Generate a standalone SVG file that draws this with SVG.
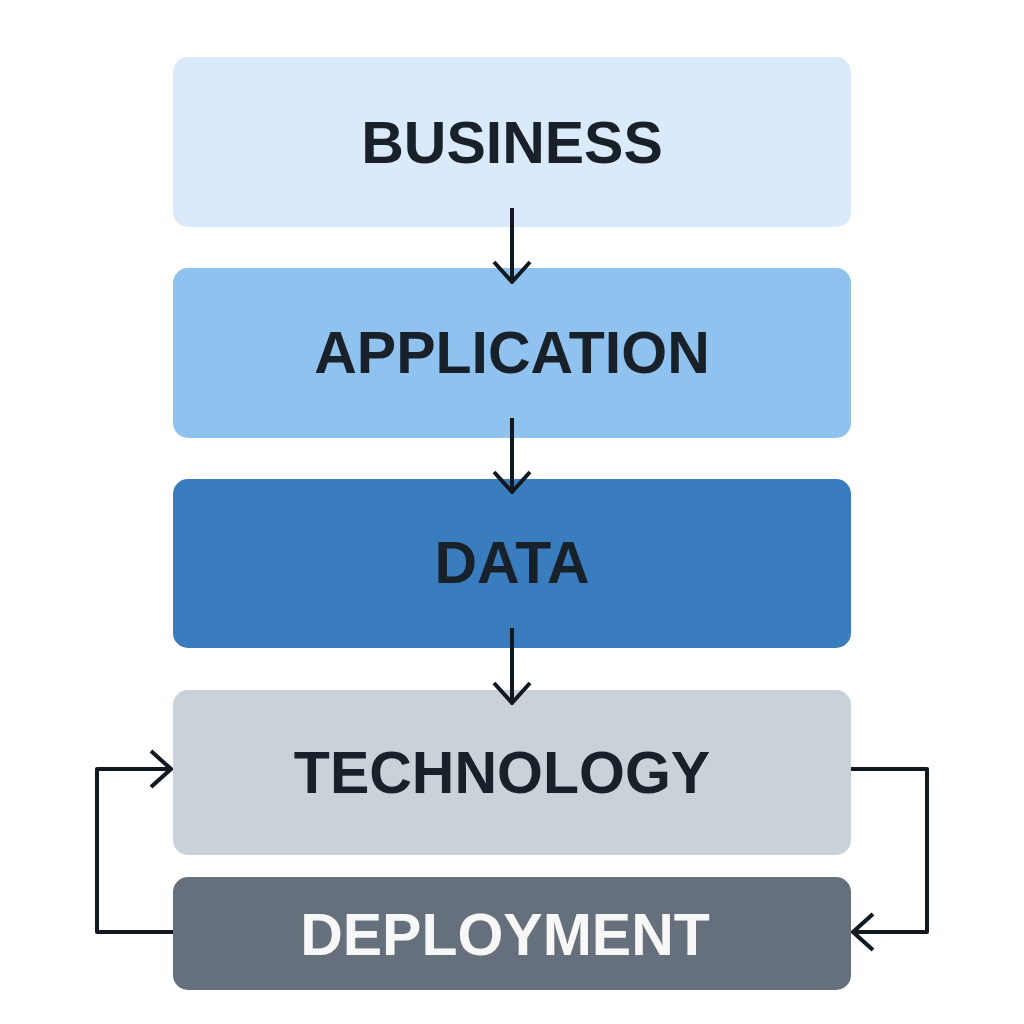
<svg xmlns="http://www.w3.org/2000/svg" width="1024" height="1024" viewBox="0 0 1024 1024">
<style>
text{font-family:"Liberation Sans",Arial,sans-serif;font-weight:bold;font-size:59px;text-anchor:middle;fill:#18202a}
.c{fill:none;stroke:#111820;stroke-width:4;stroke-linejoin:round}
</style>
<defs><marker id="a" viewBox="0 0 24 40" refX="22" refY="20" markerWidth="24" markerHeight="40" markerUnits="userSpaceOnUse" orient="auto"><path d="M2,2 L22,20 L2,38" fill="none" stroke="#111820" stroke-width="4" stroke-linejoin="miter"/></marker></defs>
<rect width="1024" height="1024" fill="#fff"/>
<g id="business"><rect x="173" y="57" width="678" height="170" rx="15" fill="#dbeafa"/><text x="512" y="163">BUSINESS</text></g>
<g id="application"><rect x="173" y="268" width="678" height="170" rx="15" fill="#90c2ef"/><text x="512" y="373">APPLICATION</text></g>
<g id="data"><rect x="173" y="479" width="678" height="169" rx="15" fill="#3a7dbf"/><text x="512" y="583">DATA</text></g>
<g id="technology"><rect x="173" y="690" width="678" height="165" rx="15" fill="#cbd1d9"/><text x="502" y="793">TECHNOLOGY</text></g>
<g id="deployment"><rect x="173" y="877" width="678" height="113" rx="15" fill="#66707d"/><text x="505" y="955" style="fill:#f7f7f7">DEPLOYMENT</text></g>
<g id="connectors">
<path class="c" d="M512,208 V282" marker-end="url(#a)"/>
<path class="c" d="M512,418 V492" marker-end="url(#a)"/>
<path class="c" d="M512,628 V703" marker-end="url(#a)"/>
<path class="c" d="M173,932 H97 V769 H171" marker-end="url(#a)"/>
<path class="c" d="M851,769 H927 V932 H853" marker-end="url(#a)"/>
</g>
</svg>
